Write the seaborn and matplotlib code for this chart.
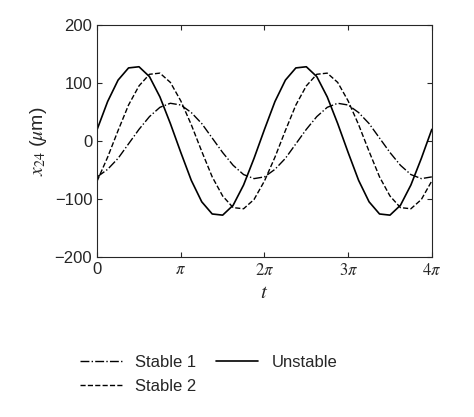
import matplotlib
matplotlib.use("Agg")
import matplotlib.pyplot as plt
import numpy as np
import pandas as pd
import seaborn as sns

sns.set_style("ticks", {"xtick.direction": "in", "ytick.direction": "in"})
plt.rcParams['font.family'] = ['Liberation Sans', 'DejaVu Sans']
plt.rcParams['mathtext.fontset'] = 'stix'

# samples every pi/8 over 0..4*pi (in units of pi)
t_pi = [k / 8 for k in range(33)]
unstable_half = [20, 68, 105, 126, 128, 111, 76, 30, -20, -68, -105, -126, -128, -111, -76, -30]
stable2_half = [-69, -28, 18, 62, 95, 115, 117, 101, 69, 28, -18, -62, -95, -115, -117, -101]
stable1_half = [-62, -49, -30, -5, 20, 42, 58, 65, 62, 49, 30, 5, -20, -42, -58, -65]
unstable = unstable_half * 2 + [20]
stable2 = stable2_half * 2 + [-69]
stable1 = stable1_half * 2 + [-62]

df = pd.DataFrame({"t": np.array(t_pi) * np.pi, "Stable 1": stable1,
                   "Stable 2": stable2, "Unstable": unstable})

fig = plt.figure(figsize=(4.74, 4.17), dpi=100)
ax = fig.add_axes([0.205, 0.384, 0.706, 0.556])
sns.lineplot(data=df, x="t", y="Stable 1", ax=ax, color="black", lw=1, linestyle="-.", label="Stable 1")
sns.lineplot(data=df, x="t", y="Stable 2", ax=ax, color="black", lw=1, linestyle="--", label="Stable 2")
sns.lineplot(data=df, x="t", y="Unstable", ax=ax, color="black", lw=1.2, linestyle="-", label="Unstable")

ax.set_xlim(0, 4 * np.pi)
ax.set_ylim(-200, 200)
ax.set_xticks(np.arange(5) * np.pi)
ax.set_xticklabels(["0", r"$\pi$", r"$2\pi$", r"$3\pi$", r"$4\pi$"], fontsize=13)
ax.set_yticks([-200, -100, 0, 100, 200])
ax.tick_params(labelsize=12, top=True, right=True)
ax.set_xlabel(r"$t$", fontsize=15)
ax.set_ylabel(r"$x_{24}$ ($\mu$m)", fontsize=14)
for s in ax.spines.values():
    s.set_linewidth(0.8)

h, l = ax.get_legend_handles_labels()
ax.legend_.remove()
fig.legend(h, l, ncol=2, loc="lower center", bbox_to_anchor=(0.44, 0.02),
           frameon=False, fontsize=12, handlelength=2.5, columnspacing=1.2)

fig.savefig("out.png", dpi=100)
